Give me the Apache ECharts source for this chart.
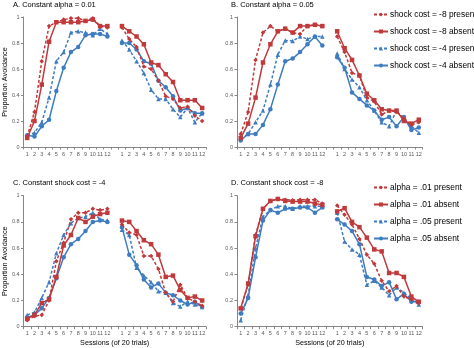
<!DOCTYPE html>
<html><head><meta charset="utf-8">
<script src="https://cdn.jsdelivr.net/npm/echarts@6/dist/echarts.min.js"></script>
<style>html,body{margin:0;padding:0;background:#fff}#c{width:474px;height:348px}</style>
</head><body><div id="c"></div>
<script>
// Categories: 12 acquisition sessions, a gap, 12 extinction sessions
const sessions = ['1','2','3','4','5','6','7','8','9','10','11','12','','1','2','3','4','5','6','7','8','9','10','11','12'];
const yTicks = [0, 0.2, 0.4, 0.6, 0.8, 1];

const namesAB = ['shock cost = -8 present','shock cost = -8 absent','shock cost = -4 present','shock cost = -4 absent'];
const namesCD = ['alpha = .01 present','alpha = .01 absent','alpha = .05 present','alpha = .05 absent'];
const titles = ['A. Constant alpha = 0.01','B. Constant alpha = 0.05','C. Constant shock cost = -4','D. Constant shock cost = -8'];

// Panel A: constant alpha = 0.01
const A_s8p_acq = [0.08,0.27,0.66,0.93,0.96,0.98,0.99,0.99,0.97,0.99,0.93,0.92];
const A_s8p_ext = [0.92,0.83,0.77,0.62,0.60,0.51,0.39,0.37,0.30,0.31,0.24,0.20];
const A_s8a_acq = [0.07,0.20,0.48,0.81,0.96,0.96,0.96,0.96,0.97,0.98,0.93,0.93];
const A_s8a_ext = [0.93,0.89,0.85,0.79,0.65,0.63,0.56,0.50,0.36,0.36,0.36,0.30];
const A_s4p_acq = [0.09,0.11,0.19,0.38,0.66,0.73,0.88,0.89,0.88,0.86,0.91,0.87];
const A_s4p_ext = [0.82,0.75,0.66,0.57,0.44,0.37,0.37,0.29,0.23,0.30,0.19,0.26];
const A_s4a_acq = [0.09,0.08,0.16,0.21,0.43,0.61,0.73,0.77,0.86,0.87,0.87,0.85];
const A_s4a_ext = [0.80,0.80,0.75,0.66,0.64,0.51,0.46,0.39,0.28,0.30,0.26,0.26];

// Panel B: constant alpha = 0.05
const B_s8p_acq = [0.10,0.27,0.67,0.88,0.93,0.89,0.91,0.88,0.87,0.93,0.94,0.93];
const B_s8p_ext = [0.85,0.73,0.57,0.55,0.38,0.35,0.25,0.28,0.27,0.22,0.17,0.19];
const B_s8a_acq = [0.07,0.18,0.38,0.65,0.79,0.89,0.91,0.88,0.93,0.93,0.94,0.93];
const B_s8a_ext = [0.89,0.76,0.67,0.55,0.41,0.36,0.29,0.28,0.28,0.20,0.18,0.21];
const B_s4p_acq = [0.065,0.10,0.19,0.28,0.48,0.71,0.82,0.815,0.85,0.83,0.85,0.85];
const B_s4p_ext = [0.72,0.60,0.52,0.46,0.36,0.28,0.19,0.16,0.28,0.21,0.16,0.11];
const B_s4a_acq = [0.05,0.10,0.10,0.17,0.29,0.48,0.66,0.68,0.73,0.79,0.85,0.78];
const B_s4a_ext = [0.69,0.61,0.42,0.37,0.32,0.28,0.21,0.23,0.16,0.23,0.13,0.15];

// Panel C: constant shock cost = -4
const C_a1p_acq = [0.05,0.08,0.09,0.20,0.50,0.64,0.82,0.87,0.87,0.90,0.89,0.90];
const C_a1p_ext = [0.78,0.72,0.70,0.54,0.54,0.44,0.26,0.19,0.32,0.22,0.19,0.16];
const C_a1a_acq = [0.06,0.09,0.18,0.21,0.38,0.62,0.70,0.83,0.80,0.84,0.86,0.87];
const C_a1a_ext = [0.81,0.80,0.73,0.66,0.63,0.55,0.38,0.39,0.28,0.22,0.23,0.20];
const C_a5p_acq = [0.09,0.11,0.22,0.34,0.56,0.70,0.79,0.83,0.84,0.87,0.82,0.81];
const C_a5p_ext = [0.74,0.70,0.45,0.39,0.34,0.27,0.26,0.18,0.155,0.19,0.17,0.15];
const C_a5a_acq = [0.07,0.09,0.14,0.22,0.37,0.53,0.63,0.67,0.73,0.80,0.81,0.80];
const C_a5a_ext = [0.76,0.55,0.47,0.36,0.30,0.33,0.26,0.24,0.20,0.17,0.19,0.15];

// Panel D: constant shock cost = -8
const D_a1p_acq = [0.14,0.32,0.70,0.90,0.96,0.975,0.97,0.965,0.97,0.97,0.97,0.94];
const D_a1p_ext = [0.925,0.855,0.78,0.67,0.55,0.48,0.35,0.27,0.31,0.23,0.21,0.18];
const D_a1a_acq = [0.14,0.33,0.69,0.90,0.96,0.975,0.96,0.955,0.955,0.955,0.94,0.93];
const D_a1a_ext = [0.88,0.905,0.80,0.76,0.68,0.59,0.575,0.41,0.41,0.38,0.23,0.19];
const D_a5p_acq = [0.05,0.24,0.60,0.84,0.89,0.92,0.92,0.90,0.92,0.92,0.92,0.92];
const D_a5p_ext = [0.87,0.65,0.59,0.55,0.32,0.35,0.30,0.24,0.30,0.26,0.21,0.17];
const D_a5a_acq = [0.10,0.22,0.53,0.81,0.89,0.87,0.90,0.90,0.91,0.91,0.87,0.91];
const D_a5a_ext = [0.82,0.78,0.73,0.63,0.38,0.36,0.31,0.34,0.21,0.25,0.19,0.19];

const RED = '#C0393B', BLUE = '#3E7CC1';
const FONT = 'Liberation Sans';
const styles = [
  {color: RED, dash: true, symbol: 'diamond', size: 4.5},
  {color: RED, dash: false, symbol: 'rect', size: 4.5},
  {color: BLUE, dash: true, symbol: 'triangle', size: 4.5},
  {color: BLUE, dash: false, symbol: 'circle', size: 4.5}
];

const panels = [
  {names: namesAB, data: [[A_s8p_acq,A_s8p_ext],[A_s8a_acq,A_s8a_ext],[A_s4p_acq,A_s4p_ext],[A_s4a_acq,A_s4a_ext]]},
  {names: namesAB, data: [[B_s8p_acq,B_s8p_ext],[B_s8a_acq,B_s8a_ext],[B_s4p_acq,B_s4p_ext],[B_s4a_acq,B_s4a_ext]]},
  {names: namesCD, data: [[C_a1p_acq,C_a1p_ext],[C_a1a_acq,C_a1a_ext],[C_a5p_acq,C_a5p_ext],[C_a5a_acq,C_a5a_ext]]},
  {names: namesCD, data: [[D_a1p_acq,D_a1p_ext],[D_a1a_acq,D_a1a_ext],[D_a5p_acq,D_a5p_ext],[D_a5a_acq,D_a5a_ext]]}
];

const grids = [
  {left: 20.3, right: 268.2, top: 17, bottom: 201},
  {left: 237, right: 51.5, top: 17, bottom: 201},
  {left: 20.3, right: 268.2, top: 195.7, bottom: 21.3},
  {left: 237, right: 51.5, top: 195.7, bottom: 21.3}
];

const axisGray = '#868686', labelGray = '#595959';
const xAxes = grids.map((g, i) => ({
  type: 'category', gridIndex: i, data: sessions, boundaryGap: true,
  axisLine: {lineStyle: {color: axisGray, width: 1}},
  axisTick: {show: true, interval: 0, length: 2.5, lineStyle: {color: axisGray}},
  axisLabel: {interval: 0, fontSize: 5.5, color: labelGray, margin: 4, fontFamily: FONT},
  name: i >= 2 ? 'Sessions (of 20 trials)' : '',
  nameLocation: 'middle', nameGap: 13,
  nameTextStyle: {fontSize: 7.2, color: '#000', fontFamily: FONT}
}));
const yAxes = grids.map((g, i) => ({
  type: 'value', gridIndex: i, min: yTicks[0], max: yTicks[yTicks.length - 1], interval: 0.2,
  axisLine: {show: true, lineStyle: {color: axisGray, width: 1}},
  axisTick: {show: true, length: 2.5, lineStyle: {color: axisGray}},
  splitLine: {show: false},
  axisLabel: {fontSize: 5.5, color: labelGray, margin: 4, fontFamily: FONT},
  name: (i === 0 || i === 2) ? 'Proportion Avoidance' : '',
  nameLocation: 'middle', nameGap: 12,
  nameTextStyle: {fontSize: 7.3, color: '#000', fontFamily: FONT}
}));

const series = [];
panels.forEach((p, pi) => {
  p.data.forEach((d, si) => {
    const st = styles[si];
    series.push({
      type: 'line', name: p.names[si], xAxisIndex: pi, yAxisIndex: pi,
      data: d[0].concat([null], d[1]),
      connectNulls: false,
      symbol: st.symbol, symbolSize: st.size, showSymbol: true,
      lineStyle: {color: st.color, width: 1.5, type: st.dash ? [3, 2] : 'solid'},
      itemStyle: {color: st.color},
      emphasis: {disabled: true},
      animation: false,
      z: si === 1 || si === 0 ? 3 : 2
    });
  });
});

const titleOpts = titles.map((t, i) => ({
  text: t, left: (i % 2 === 0) ? 13 : 231, top: i < 2 ? 1 : 179, padding: 0,
  textStyle: {fontSize: 7.5, fontWeight: 'normal', color: '#000', fontFamily: FONT}
}));

const legendCommon = {
  orient: 'vertical', left: 373, itemWidth: 14, itemHeight: 5, itemGap: 9, padding: 0,
  textStyle: {fontSize: 8.4, color: '#000', fontFamily: FONT, padding: [0, 0, 0, -3]},
  selectedMode: false
};

const chart = echarts.init(document.getElementById('c'), null, {renderer: 'canvas'});
chart.setOption({
  backgroundColor: '#fff',
  animation: false,
  title: titleOpts,
  legend: [
    Object.assign({}, legendCommon, {data: namesAB, top: 10.5}),
    Object.assign({}, legendCommon, {data: namesCD, top: 183.5})
  ],
  grid: grids,
  xAxis: xAxes,
  yAxis: yAxes,
  series: series
});
</script>
</body></html>
